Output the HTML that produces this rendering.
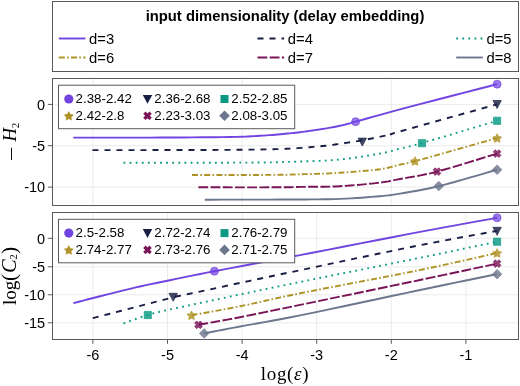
<!DOCTYPE html><html><head><meta charset="utf-8"><style>html,body{margin:0;padding:0;background:#fff;}svg{display:block;}</style></head><body>
<svg width="520" height="386" viewBox="0 0 520 386">
<rect width="520" height="386" fill="#fff"/>
<rect x="52.5" y="1.5" width="466" height="70" fill="#fff" stroke="#5a5a5a" stroke-width="1"/>
<text x="285" y="20.9" text-anchor="middle" font-family='"Liberation Sans", Arial, Helvetica, sans-serif' font-weight="bold" font-size="14.8" fill="#000">input dimensionality (delay embedding)</text>
<path d="M58.80,38.50 L85.40,38.50" fill="none" stroke="#7143E0" stroke-width="1.9" stroke-linejoin="round"/>
<text x="89.1" y="43.6" font-family='"Liberation Sans", Arial, Helvetica, sans-serif' font-size="14.8" fill="#000">d=3</text>
<path d="M257.50,38.50 L284.10,38.50" fill="none" stroke="#191E44" stroke-width="1.9" stroke-dasharray="6 6" stroke-linejoin="round"/>
<text x="287.8" y="43.6" font-family='"Liberation Sans", Arial, Helvetica, sans-serif' font-size="14.8" fill="#000">d=4</text>
<path d="M456.20,38.50 L482.80,38.50" fill="none" stroke="#0A9A84" stroke-width="1.9" stroke-dasharray="1.8 4.3" stroke-linejoin="round"/>
<text x="486.5" y="43.6" font-family='"Liberation Sans", Arial, Helvetica, sans-serif' font-size="14.8" fill="#000">d=5</text>
<path d="M58.80,57.50 L85.40,57.50" fill="none" stroke="#AF9327" stroke-width="1.9" stroke-dasharray="6 2.3 1.6 2.3" stroke-linejoin="round"/>
<text x="89.1" y="62.6" font-family='"Liberation Sans", Arial, Helvetica, sans-serif' font-size="14.8" fill="#000">d=6</text>
<path d="M257.50,57.50 L284.10,57.50" fill="none" stroke="#791457" stroke-width="1.9" stroke-dasharray="9.8 2.4" stroke-linejoin="round"/>
<text x="287.8" y="62.6" font-family='"Liberation Sans", Arial, Helvetica, sans-serif' font-size="14.8" fill="#000">d=7</text>
<path d="M456.20,57.50 L482.80,57.50" fill="none" stroke="#6C768C" stroke-width="1.9" stroke-linejoin="round"/>
<text x="486.5" y="62.6" font-family='"Liberation Sans", Arial, Helvetica, sans-serif' font-size="14.8" fill="#000">d=8</text>
<line x1="92.9" y1="78.5" x2="92.9" y2="205.5" stroke="#ebebeb" stroke-width="1"/>
<line x1="242.1" y1="78.5" x2="242.1" y2="205.5" stroke="#ebebeb" stroke-width="1"/>
<line x1="391.3" y1="78.5" x2="391.3" y2="205.5" stroke="#ebebeb" stroke-width="1"/>
<line x1="52.5" y1="104.4" x2="518.5" y2="104.4" stroke="#ebebeb" stroke-width="1"/>
<line x1="52.5" y1="145.7" x2="518.5" y2="145.7" stroke="#ebebeb" stroke-width="1"/>
<line x1="52.5" y1="187.1" x2="518.5" y2="187.1" stroke="#ebebeb" stroke-width="1"/>
<path d="M73.30,137.60 L79.19,137.60 L87.00,137.61 L96.30,137.63 L106.65,137.64 L117.63,137.64 L128.80,137.64 L139.73,137.63 L150.00,137.60 L160.18,137.56 L170.94,137.51 L181.96,137.45 L192.92,137.38 L203.52,137.30 L213.44,137.21 L222.37,137.11 L230.00,137.00 L236.19,136.88 L241.18,136.76 L245.22,136.62 L248.56,136.48 L251.46,136.32 L254.16,136.16 L256.93,135.98 L260.00,135.80 L263.25,135.60 L266.38,135.39 L269.40,135.17 L272.31,134.94 L275.12,134.70 L277.84,134.46 L280.46,134.23 L283.00,134.00 L285.39,133.78 L287.60,133.57 L289.68,133.37 L291.69,133.16 L293.67,132.95 L295.68,132.72 L297.77,132.47 L300.00,132.20 L302.36,131.90 L304.79,131.59 L307.28,131.26 L309.81,130.91 L312.37,130.55 L314.93,130.18 L317.48,129.80 L320.00,129.40 L322.53,128.99 L325.10,128.57 L327.69,128.13 L330.28,127.68 L332.82,127.22 L335.31,126.75 L337.71,126.28 L340.00,125.80 L341.96,125.37 L343.53,125.00 L344.91,124.66 L346.27,124.29 L347.83,123.86 L349.78,123.31 L352.30,122.61 L355.60,121.70 L359.41,120.64 L363.44,119.50 L367.83,118.25 L372.71,116.87 L378.23,115.32 L384.53,113.57 L391.74,111.61 L400.00,109.40 L410.27,106.70 L422.83,103.42 L436.79,99.79 L451.27,96.03 L465.42,92.37 L478.34,89.03 L489.16,86.23 L497.00,84.20" fill="none" stroke="#7143E0" stroke-width="1.9" stroke-linejoin="round"/>
<path d="M92.50,150.10 L101.12,150.10 L112.93,150.09 L127.03,150.09 L142.50,150.08 L158.44,150.07 L173.95,150.06 L188.10,150.03 L200.00,150.00 L209.98,149.96 L219.04,149.91 L227.30,149.86 L234.84,149.80 L241.78,149.73 L248.22,149.66 L254.26,149.58 L260.00,149.50 L265.19,149.42 L269.61,149.34 L273.45,149.25 L276.88,149.16 L280.07,149.06 L283.20,148.93 L286.46,148.78 L290.00,148.60 L293.82,148.38 L297.73,148.13 L301.69,147.85 L305.62,147.55 L309.48,147.24 L313.20,146.92 L316.73,146.61 L320.00,146.30 L322.96,146.00 L325.66,145.71 L328.14,145.42 L330.50,145.12 L332.79,144.82 L335.09,144.50 L337.47,144.16 L340.00,143.80 L342.61,143.43 L345.22,143.05 L347.84,142.66 L350.50,142.25 L353.22,141.82 L356.03,141.35 L358.95,140.85 L362.00,140.30 L365.34,139.68 L369.00,138.97 L372.85,138.21 L376.75,137.43 L380.55,136.65 L384.12,135.90 L387.32,135.21 L390.00,134.60 L391.52,134.24 L391.73,134.18 L391.25,134.27 L390.69,134.34 L390.67,134.24 L391.80,133.82 L394.71,132.93 L400.00,131.40 L408.62,128.97 L420.41,125.67 L434.27,121.80 L449.12,117.65 L463.91,113.53 L477.53,109.73 L488.92,106.55 L497.00,104.30" fill="none" stroke="#191E44" stroke-width="1.9" stroke-dasharray="6 6" stroke-linejoin="round"/>
<path d="M123.50,162.70 L133.78,162.70 L148.02,162.71 L165.03,162.71 L183.62,162.72 L202.61,162.72 L220.79,162.70 L236.98,162.66 L250.00,162.60 L259.98,162.52 L268.11,162.42 L274.79,162.30 L280.41,162.17 L285.34,162.02 L290.00,161.86 L294.75,161.69 L300.00,161.50 L305.48,161.32 L310.70,161.15 L315.73,160.99 L320.62,160.80 L325.44,160.58 L330.23,160.30 L335.07,159.94 L340.00,159.50 L345.14,158.94 L350.47,158.28 L355.88,157.53 L361.25,156.74 L366.46,155.92 L371.41,155.10 L375.96,154.32 L380.00,153.60 L383.44,152.94 L386.36,152.30 L388.88,151.69 L391.12,151.08 L393.23,150.48 L395.33,149.87 L397.54,149.25 L400.00,148.60 L402.29,148.04 L404.12,147.63 L405.77,147.27 L407.56,146.88 L409.78,146.34 L412.73,145.58 L416.70,144.50 L422.00,143.00 L429.35,140.87 L438.78,138.10 L449.54,134.92 L460.88,131.55 L472.04,128.23 L482.28,125.18 L490.85,122.63 L497.00,120.80" fill="none" stroke="#0A9A84" stroke-width="1.9" stroke-dasharray="1.8 4.3" stroke-linejoin="round"/>
<path d="M192.00,175.00 L198.35,175.00 L207.14,174.99 L217.65,174.99 L229.12,174.99 L240.84,174.98 L252.05,174.96 L262.01,174.94 L270.00,174.90 L275.98,174.86 L280.64,174.81 L284.33,174.75 L287.38,174.69 L290.13,174.61 L292.92,174.53 L296.10,174.42 L300.00,174.30 L304.52,174.17 L309.30,174.04 L314.27,173.90 L319.38,173.74 L324.56,173.56 L329.77,173.34 L334.93,173.09 L340.00,172.80 L345.14,172.46 L350.47,172.07 L355.88,171.65 L361.25,171.19 L366.46,170.72 L371.41,170.22 L375.96,169.71 L380.00,169.20 L383.49,168.66 L386.52,168.09 L389.18,167.50 L391.56,166.89 L393.75,166.28 L395.82,165.69 L397.88,165.12 L400.00,164.60 L401.66,164.25 L402.53,164.13 L403.05,164.10 L403.62,164.06 L404.69,163.87 L406.66,163.41 L409.95,162.56 L415.00,161.20 L422.60,159.10 L432.71,156.27 L444.45,152.97 L456.94,149.44 L469.31,145.94 L480.70,142.71 L490.22,140.02 L497.00,138.10" fill="none" stroke="#AF9327" stroke-width="1.9" stroke-dasharray="6 2.3 1.6 2.3" stroke-linejoin="round"/>
<path d="M198.40,187.30 L205.12,187.30 L214.51,187.31 L225.73,187.32 L237.95,187.33 L250.33,187.33 L262.02,187.33 L272.19,187.32 L280.00,187.30 L285.31,187.27 L288.86,187.24 L291.13,187.19 L292.60,187.14 L293.74,187.09 L295.04,187.03 L296.96,186.97 L300.00,186.90 L304.04,186.85 L308.59,186.81 L313.54,186.79 L318.75,186.75 L324.12,186.69 L329.53,186.59 L334.86,186.43 L340.00,186.20 L345.14,185.89 L350.47,185.50 L355.88,185.06 L361.25,184.58 L366.46,184.08 L371.41,183.57 L375.96,183.07 L380.00,182.60 L383.34,182.18 L386.01,181.79 L388.22,181.42 L390.19,181.04 L392.13,180.63 L394.27,180.17 L396.82,179.63 L400.00,179.00 L403.65,178.33 L407.52,177.67 L411.62,176.97 L416.00,176.20 L420.69,175.32 L425.73,174.28 L431.16,173.06 L437.00,171.60 L443.81,169.73 L451.79,167.42 L460.45,164.84 L469.31,162.14 L477.88,159.50 L485.68,157.08 L492.21,155.06 L497.00,153.60" fill="none" stroke="#791457" stroke-width="1.9" stroke-dasharray="9.8 2.4" stroke-linejoin="round"/>
<path d="M204.80,199.70 L211.61,199.69 L220.93,199.67 L232.06,199.66 L244.28,199.64 L256.88,199.61 L269.18,199.58 L280.45,199.55 L290.00,199.50 L298.00,199.46 L305.21,199.43 L311.77,199.40 L317.82,199.36 L323.53,199.30 L329.03,199.21 L334.47,199.08 L340.00,198.90 L345.62,198.66 L351.17,198.37 L356.61,198.04 L361.88,197.68 L366.90,197.30 L371.64,196.92 L376.03,196.55 L380.00,196.20 L383.33,195.90 L385.96,195.66 L388.13,195.43 L390.06,195.20 L391.99,194.93 L394.13,194.59 L396.73,194.16 L400.00,193.60 L403.84,192.96 L407.97,192.28 L412.40,191.54 L417.12,190.71 L422.15,189.78 L427.47,188.72 L433.09,187.50 L439.00,186.10 L445.74,184.36 L453.52,182.24 L461.91,179.88 L470.44,177.43 L478.66,175.04 L486.13,172.86 L492.40,171.03 L497.00,169.70" fill="none" stroke="#6C768C" stroke-width="1.9" stroke-linejoin="round"/>
<circle cx="355.6" cy="121.7" r="4.0" fill="#7143E0" fill-opacity="0.72" stroke="#7143E0" stroke-opacity="0.72" stroke-width="0.9"/>
<circle cx="497.1" cy="84.2" r="4.0" fill="#7143E0" fill-opacity="0.72" stroke="#7143E0" stroke-opacity="0.72" stroke-width="0.9"/>
<path d="M358.07,138.11 L366.53,138.11 L362.30,146.12 Z" fill="#191E44" fill-opacity="0.82" stroke="#191E44" stroke-opacity="0.82" stroke-width="0.8" stroke-linejoin="round"/>
<path d="M492.87,100.51 L501.33,100.51 L497.10,108.52 Z" fill="#191E44" fill-opacity="0.82" stroke="#191E44" stroke-opacity="0.82" stroke-width="0.8" stroke-linejoin="round"/>
<rect x="418.40" y="139.60" width="7.20" height="7.20" fill="#0A9A84" fill-opacity="0.82" stroke="#0A9A84" stroke-opacity="0.82" stroke-width="0.8" stroke-linejoin="round"/>
<rect x="493.50" y="117.20" width="7.20" height="7.20" fill="#0A9A84" fill-opacity="0.82" stroke="#0A9A84" stroke-opacity="0.82" stroke-width="0.8" stroke-linejoin="round"/>
<polygon points="415.00,156.73 416.45,159.50 419.54,160.03 417.35,162.26 417.80,165.36 415.00,163.97 412.20,165.36 412.65,162.26 410.46,160.03 413.55,159.50" fill="#AF9327" fill-opacity="0.82" stroke="#AF9327" stroke-opacity="0.82" stroke-width="0.8" stroke-linejoin="round"/>
<polygon points="497.10,133.73 498.55,136.50 501.64,137.03 499.45,139.26 499.90,142.36 497.10,140.97 494.30,142.36 494.75,139.26 492.56,137.03 495.65,136.50" fill="#AF9327" fill-opacity="0.82" stroke="#AF9327" stroke-opacity="0.82" stroke-width="0.8" stroke-linejoin="round"/>
<polygon points="438.75,167.75 440.85,169.85 439.10,171.60 440.85,173.35 438.75,175.45 437.00,173.70 435.25,175.45 433.15,173.35 434.90,171.60 433.15,169.85 435.25,167.75 437.00,169.50" fill="#791457" fill-opacity="0.82" stroke="#791457" stroke-opacity="0.82" stroke-width="0.8" stroke-linejoin="round"/>
<polygon points="498.85,149.75 500.95,151.85 499.20,153.60 500.95,155.35 498.85,157.45 497.10,155.70 495.35,157.45 493.25,155.35 495.00,153.60 493.25,151.85 495.35,149.75 497.10,151.50" fill="#791457" fill-opacity="0.82" stroke="#791457" stroke-opacity="0.82" stroke-width="0.8" stroke-linejoin="round"/>
<path d="M438.80,181.33 L443.57,186.10 L438.80,190.87 L434.03,186.10 Z" fill="#6C768C" fill-opacity="0.82" stroke="#6C768C" stroke-opacity="0.82" stroke-width="0.8" stroke-linejoin="round"/>
<path d="M497.10,164.93 L501.87,169.70 L497.10,174.47 L492.33,169.70 Z" fill="#6C768C" fill-opacity="0.82" stroke="#6C768C" stroke-opacity="0.82" stroke-width="0.8" stroke-linejoin="round"/>
<rect x="58.5" y="85.2" width="236.2" height="43.499999999999986" fill="#fff" stroke="#5a5a5a" stroke-width="1"/>
<circle cx="68.8" cy="99.0" r="4.6" fill="#7143E0"/>
<text x="75.6" y="103.3" font-family='"Liberation Sans", Arial, Helvetica, sans-serif' font-size="13.3" fill="#000">2.38-2.42</text>
<path d="M142.80,94.90 L152.20,94.90 L147.50,103.80 Z" fill="#191E44"/>
<text x="154.3" y="103.3" font-family='"Liberation Sans", Arial, Helvetica, sans-serif' font-size="13.3" fill="#000">2.36-2.68</text>
<rect x="220.50" y="95.00" width="8.00" height="8.00" fill="#0A9A84"/>
<text x="231.3" y="103.3" font-family='"Liberation Sans", Arial, Helvetica, sans-serif' font-size="13.3" fill="#000">2.52-2.85</text>
<polygon points="68.80,111.00 70.42,114.08 73.84,114.66 71.42,117.15 71.92,120.59 68.80,119.05 65.68,120.59 66.18,117.15 63.76,114.66 67.18,114.08" fill="#AF9327"/>
<text x="75.6" y="120.10000000000001" font-family='"Liberation Sans", Arial, Helvetica, sans-serif' font-size="13.3" fill="#000">2.42-2.8</text>
<polygon points="149.44,111.52 151.78,113.86 149.83,115.80 151.78,117.74 149.44,120.08 147.50,118.13 145.56,120.08 143.22,117.74 145.17,115.80 143.22,113.86 145.56,111.52 147.50,113.47" fill="#791457"/>
<text x="154.3" y="120.10000000000001" font-family='"Liberation Sans", Arial, Helvetica, sans-serif' font-size="13.3" fill="#000">2.23-3.03</text>
<path d="M224.50,110.50 L229.80,115.80 L224.50,121.10 L219.20,115.80 Z" fill="#6C768C"/>
<text x="231.3" y="120.10000000000001" font-family='"Liberation Sans", Arial, Helvetica, sans-serif' font-size="13.3" fill="#000">2.08-3.05</text>
<rect x="52.5" y="78.5" width="466" height="127.0" fill="none" stroke="#5a5a5a" stroke-width="1"/>
<line x1="47.8" y1="104.4" x2="52.5" y2="104.4" stroke="#5a5a5a" stroke-width="1"/>
<text x="45.2" y="109.60000000000001" text-anchor="end" font-family='"Liberation Sans", Arial, Helvetica, sans-serif' font-size="14.5" fill="#000">0</text>
<line x1="47.8" y1="145.7" x2="52.5" y2="145.7" stroke="#5a5a5a" stroke-width="1"/>
<text x="45.2" y="150.89999999999998" text-anchor="end" font-family='"Liberation Sans", Arial, Helvetica, sans-serif' font-size="14.5" fill="#000">-5</text>
<line x1="47.8" y1="187.1" x2="52.5" y2="187.1" stroke="#5a5a5a" stroke-width="1"/>
<text x="45.2" y="192.29999999999998" text-anchor="end" font-family='"Liberation Sans", Arial, Helvetica, sans-serif' font-size="14.5" fill="#000">-10</text>
<line x1="92.9" y1="212.5" x2="92.9" y2="339.5" stroke="#ebebeb" stroke-width="1"/>
<line x1="167.5" y1="212.5" x2="167.5" y2="339.5" stroke="#ebebeb" stroke-width="1"/>
<line x1="242.1" y1="212.5" x2="242.1" y2="339.5" stroke="#ebebeb" stroke-width="1"/>
<line x1="316.7" y1="212.5" x2="316.7" y2="339.5" stroke="#ebebeb" stroke-width="1"/>
<line x1="391.3" y1="212.5" x2="391.3" y2="339.5" stroke="#ebebeb" stroke-width="1"/>
<line x1="465.9" y1="212.5" x2="465.9" y2="339.5" stroke="#ebebeb" stroke-width="1"/>
<line x1="52.5" y1="238.3" x2="518.5" y2="238.3" stroke="#ebebeb" stroke-width="1"/>
<line x1="52.5" y1="266.8" x2="518.5" y2="266.8" stroke="#ebebeb" stroke-width="1"/>
<line x1="52.5" y1="294.8" x2="518.5" y2="294.8" stroke="#ebebeb" stroke-width="1"/>
<line x1="52.5" y1="322.8" x2="518.5" y2="322.8" stroke="#ebebeb" stroke-width="1"/>
<path d="M73.40,303.10 L77.88,301.96 L83.96,300.40 L91.21,298.53 L99.20,296.49 L107.50,294.37 L115.69,292.31 L123.33,290.41 L130.00,288.80 L135.76,287.45 L141.06,286.26 L146.02,285.18 L150.76,284.17 L155.41,283.20 L160.08,282.24 L164.90,281.26 L170.00,280.20 L175.06,279.14 L179.83,278.14 L184.52,277.17 L189.35,276.17 L194.54,275.11 L200.30,273.96 L206.85,272.67 L214.40,271.20 L222.89,269.58 L232.10,267.84 L241.97,265.99 L252.48,264.04 L263.57,261.97 L275.22,259.79 L287.37,257.50 L300.00,255.10 L313.65,252.48 L328.59,249.59 L344.37,246.52 L360.54,243.38 L376.64,240.25 L392.22,237.23 L406.82,234.41 L420.00,231.90 L432.21,229.61 L444.08,227.40 L455.41,225.33 L466.00,223.40 L475.65,221.65 L484.17,220.12 L491.35,218.83 L497.00,217.80" fill="none" stroke="#7143E0" stroke-width="1.9" stroke-linejoin="round"/>
<path d="M92.80,318.20 L99.51,316.45 L108.97,313.99 L120.30,311.04 L132.57,307.84 L144.91,304.64 L156.39,301.65 L166.12,299.13 L173.20,297.30 L176.80,296.35 L177.42,296.13 L176.17,296.38 L174.12,296.84 L172.39,297.28 L172.07,297.41 L174.24,297.01 L180.00,295.80 L189.58,293.75 L202.04,291.08 L216.71,287.94 L232.93,284.47 L250.03,280.82 L267.35,277.12 L284.23,273.54 L300.00,270.20 L315.29,266.97 L331.01,263.66 L346.89,260.31 L362.69,256.99 L378.15,253.76 L393.02,250.68 L407.06,247.81 L420.00,245.20 L432.21,242.80 L444.08,240.54 L455.41,238.43 L466.00,236.49 L475.65,234.74 L484.17,233.22 L491.35,231.93 L497.00,230.90" fill="none" stroke="#191E44" stroke-width="1.9" stroke-dasharray="6 6" stroke-linejoin="round"/>
<path d="M123.50,323.50 L125.32,322.84 L127.68,321.95 L130.49,320.90 L133.64,319.73 L137.04,318.50 L140.60,317.27 L144.22,316.08 L147.80,315.00 L150.85,314.12 L153.24,313.43 L155.44,312.83 L157.92,312.20 L161.15,311.44 L165.59,310.44 L171.72,309.10 L180.00,307.30 L190.80,304.97 L203.83,302.19 L218.57,299.05 L234.51,295.68 L251.14,292.18 L267.94,288.66 L284.40,285.23 L300.00,282.00 L315.29,278.87 L331.01,275.68 L346.89,272.49 L362.69,269.32 L378.15,266.23 L393.02,263.25 L407.06,260.43 L420.00,257.80 L432.21,255.29 L444.08,252.83 L455.41,250.46 L466.00,248.24 L475.65,246.20 L484.17,244.40 L491.35,242.89 L497.00,241.70" fill="none" stroke="#0A9A84" stroke-width="1.9" stroke-dasharray="1.8 4.3" stroke-linejoin="round"/>
<path d="M191.50,315.20 L195.16,314.54 L199.95,313.70 L205.63,312.69 L212.00,311.56 L218.84,310.33 L225.93,309.02 L233.06,307.67 L240.00,306.30 L246.54,304.94 L252.79,303.58 L259.02,302.18 L265.53,300.70 L272.60,299.11 L280.51,297.37 L289.55,295.45 L300.00,293.30 L312.42,290.84 L326.79,288.05 L342.50,285.04 L358.94,281.90 L375.51,278.73 L391.62,275.62 L406.65,272.68 L420.00,270.00 L432.21,267.46 L444.08,264.91 L455.41,262.42 L466.00,260.04 L475.65,257.85 L484.17,255.91 L491.35,254.27 L497.00,253.00" fill="none" stroke="#AF9327" stroke-width="1.9" stroke-dasharray="6 2.3 1.6 2.3" stroke-linejoin="round"/>
<path d="M198.50,324.80 L201.58,324.25 L205.52,323.54 L210.21,322.71 L215.50,321.77 L221.26,320.73 L227.35,319.61 L233.64,318.43 L240.00,317.20 L246.20,315.97 L252.29,314.75 L258.51,313.49 L265.09,312.13 L272.29,310.64 L280.35,308.97 L289.50,307.07 L300.00,304.90 L312.42,302.33 L326.79,299.36 L342.50,296.11 L358.94,292.71 L375.51,289.27 L391.62,285.92 L406.65,282.79 L420.00,280.00 L432.21,277.43 L444.08,274.92 L455.41,272.51 L466.00,270.24 L475.65,268.18 L484.17,266.35 L491.35,264.81 L497.00,263.60" fill="none" stroke="#791457" stroke-width="1.9" stroke-dasharray="9.8 2.4" stroke-linejoin="round"/>
<path d="M204.20,333.40 L206.80,332.90 L210.07,332.26 L213.94,331.50 L218.35,330.64 L223.23,329.70 L228.51,328.68 L234.12,327.61 L240.00,326.50 L245.93,325.41 L251.89,324.36 L258.09,323.27 L264.74,322.11 L272.04,320.79 L280.21,319.28 L289.46,317.50 L300.00,315.40 L312.42,312.84 L326.79,309.83 L342.50,306.50 L358.94,303.00 L375.51,299.46 L391.62,296.02 L406.65,292.82 L420.00,290.00 L432.21,287.45 L444.08,284.98 L455.41,282.64 L466.00,280.46 L475.65,278.48 L484.17,276.73 L491.35,275.26 L497.00,274.10" fill="none" stroke="#6C768C" stroke-width="1.9" stroke-linejoin="round"/>
<circle cx="214.4" cy="271.2" r="4.0" fill="#7143E0" fill-opacity="0.72" stroke="#7143E0" stroke-opacity="0.72" stroke-width="0.9"/>
<circle cx="497.1" cy="217.8" r="4.0" fill="#7143E0" fill-opacity="0.72" stroke="#7143E0" stroke-opacity="0.72" stroke-width="0.9"/>
<path d="M168.97,293.31 L177.43,293.31 L173.20,301.32 Z" fill="#191E44" fill-opacity="0.82" stroke="#191E44" stroke-opacity="0.82" stroke-width="0.8" stroke-linejoin="round"/>
<path d="M492.87,227.31 L501.33,227.31 L497.10,235.32 Z" fill="#191E44" fill-opacity="0.82" stroke="#191E44" stroke-opacity="0.82" stroke-width="0.8" stroke-linejoin="round"/>
<rect x="144.20" y="311.40" width="7.20" height="7.20" fill="#0A9A84" fill-opacity="0.82" stroke="#0A9A84" stroke-opacity="0.82" stroke-width="0.8" stroke-linejoin="round"/>
<rect x="493.50" y="238.10" width="7.20" height="7.20" fill="#0A9A84" fill-opacity="0.82" stroke="#0A9A84" stroke-opacity="0.82" stroke-width="0.8" stroke-linejoin="round"/>
<polygon points="191.50,310.93 192.95,313.70 196.04,314.23 193.85,316.46 194.30,319.56 191.50,318.18 188.70,319.56 189.15,316.46 186.96,314.23 190.05,313.70" fill="#AF9327" fill-opacity="0.82" stroke="#AF9327" stroke-opacity="0.82" stroke-width="0.8" stroke-linejoin="round"/>
<polygon points="497.10,248.63 498.55,251.40 501.64,251.93 499.45,254.16 499.90,257.26 497.10,255.88 494.30,257.26 494.75,254.16 492.56,251.93 495.65,251.40" fill="#AF9327" fill-opacity="0.82" stroke="#AF9327" stroke-opacity="0.82" stroke-width="0.8" stroke-linejoin="round"/>
<polygon points="200.25,320.95 202.35,323.05 200.60,324.80 202.35,326.55 200.25,328.65 198.50,326.90 196.75,328.65 194.65,326.55 196.40,324.80 194.65,323.05 196.75,320.95 198.50,322.70" fill="#791457" fill-opacity="0.82" stroke="#791457" stroke-opacity="0.82" stroke-width="0.8" stroke-linejoin="round"/>
<polygon points="498.85,259.75 500.95,261.85 499.20,263.60 500.95,265.35 498.85,267.45 497.10,265.70 495.35,267.45 493.25,265.35 495.00,263.60 493.25,261.85 495.35,259.75 497.10,261.50" fill="#791457" fill-opacity="0.82" stroke="#791457" stroke-opacity="0.82" stroke-width="0.8" stroke-linejoin="round"/>
<path d="M204.20,328.63 L208.97,333.40 L204.20,338.17 L199.43,333.40 Z" fill="#6C768C" fill-opacity="0.82" stroke="#6C768C" stroke-opacity="0.82" stroke-width="0.8" stroke-linejoin="round"/>
<path d="M497.10,269.43 L501.87,274.20 L497.10,278.97 L492.33,274.20 Z" fill="#6C768C" fill-opacity="0.82" stroke="#6C768C" stroke-opacity="0.82" stroke-width="0.8" stroke-linejoin="round"/>
<rect x="58.5" y="219.3" width="236.2" height="43.5" fill="#fff" stroke="#5a5a5a" stroke-width="1"/>
<circle cx="68.8" cy="233.10000000000002" r="4.6" fill="#7143E0"/>
<text x="75.6" y="237.40000000000003" font-family='"Liberation Sans", Arial, Helvetica, sans-serif' font-size="13.3" fill="#000">2.5-2.58</text>
<path d="M142.80,229.00 L152.20,229.00 L147.50,237.90 Z" fill="#191E44"/>
<text x="154.3" y="237.40000000000003" font-family='"Liberation Sans", Arial, Helvetica, sans-serif' font-size="13.3" fill="#000">2.72-2.74</text>
<rect x="220.50" y="229.10" width="8.00" height="8.00" fill="#0A9A84"/>
<text x="231.3" y="237.40000000000003" font-family='"Liberation Sans", Arial, Helvetica, sans-serif' font-size="13.3" fill="#000">2.76-2.79</text>
<polygon points="68.80,245.10 70.42,248.18 73.84,248.76 71.42,251.25 71.92,254.69 68.80,253.15 65.68,254.69 66.18,251.25 63.76,248.76 67.18,248.18" fill="#AF9327"/>
<text x="75.6" y="254.20000000000002" font-family='"Liberation Sans", Arial, Helvetica, sans-serif' font-size="13.3" fill="#000">2.74-2.77</text>
<polygon points="149.44,245.62 151.78,247.96 149.83,249.90 151.78,251.84 149.44,254.18 147.50,252.23 145.56,254.18 143.22,251.84 145.17,249.90 143.22,247.96 145.56,245.62 147.50,247.57" fill="#791457"/>
<text x="154.3" y="254.20000000000002" font-family='"Liberation Sans", Arial, Helvetica, sans-serif' font-size="13.3" fill="#000">2.73-2.76</text>
<path d="M224.50,244.60 L229.80,249.90 L224.50,255.20 L219.20,249.90 Z" fill="#6C768C"/>
<text x="231.3" y="254.20000000000002" font-family='"Liberation Sans", Arial, Helvetica, sans-serif' font-size="13.3" fill="#000">2.71-2.75</text>
<rect x="52.5" y="212.5" width="466" height="127.0" fill="none" stroke="#5a5a5a" stroke-width="1"/>
<line x1="47.8" y1="238.3" x2="52.5" y2="238.3" stroke="#5a5a5a" stroke-width="1"/>
<text x="45.2" y="243.5" text-anchor="end" font-family='"Liberation Sans", Arial, Helvetica, sans-serif' font-size="14.5" fill="#000">0</text>
<line x1="47.8" y1="266.8" x2="52.5" y2="266.8" stroke="#5a5a5a" stroke-width="1"/>
<text x="45.2" y="272.0" text-anchor="end" font-family='"Liberation Sans", Arial, Helvetica, sans-serif' font-size="14.5" fill="#000">-5</text>
<line x1="47.8" y1="294.8" x2="52.5" y2="294.8" stroke="#5a5a5a" stroke-width="1"/>
<text x="45.2" y="300.0" text-anchor="end" font-family='"Liberation Sans", Arial, Helvetica, sans-serif' font-size="14.5" fill="#000">-10</text>
<line x1="47.8" y1="322.8" x2="52.5" y2="322.8" stroke="#5a5a5a" stroke-width="1"/>
<text x="45.2" y="328.0" text-anchor="end" font-family='"Liberation Sans", Arial, Helvetica, sans-serif' font-size="14.5" fill="#000">-15</text>
<line x1="92.9" y1="339.5" x2="92.9" y2="343.8" stroke="#5a5a5a" stroke-width="1"/>
<text x="92.9" y="359.7" text-anchor="middle" font-family='"Liberation Sans", Arial, Helvetica, sans-serif' font-size="14.5" fill="#000">-6</text>
<line x1="167.5" y1="339.5" x2="167.5" y2="343.8" stroke="#5a5a5a" stroke-width="1"/>
<text x="167.5" y="359.7" text-anchor="middle" font-family='"Liberation Sans", Arial, Helvetica, sans-serif' font-size="14.5" fill="#000">-5</text>
<line x1="242.1" y1="339.5" x2="242.1" y2="343.8" stroke="#5a5a5a" stroke-width="1"/>
<text x="242.1" y="359.7" text-anchor="middle" font-family='"Liberation Sans", Arial, Helvetica, sans-serif' font-size="14.5" fill="#000">-4</text>
<line x1="316.7" y1="339.5" x2="316.7" y2="343.8" stroke="#5a5a5a" stroke-width="1"/>
<text x="316.7" y="359.7" text-anchor="middle" font-family='"Liberation Sans", Arial, Helvetica, sans-serif' font-size="14.5" fill="#000">-3</text>
<line x1="391.3" y1="339.5" x2="391.3" y2="343.8" stroke="#5a5a5a" stroke-width="1"/>
<text x="391.3" y="359.7" text-anchor="middle" font-family='"Liberation Sans", Arial, Helvetica, sans-serif' font-size="14.5" fill="#000">-2</text>
<line x1="465.9" y1="339.5" x2="465.9" y2="343.8" stroke="#5a5a5a" stroke-width="1"/>
<text x="465.9" y="359.7" text-anchor="middle" font-family='"Liberation Sans", Arial, Helvetica, sans-serif' font-size="14.5" fill="#000">-1</text>
<text x="285" y="379.8" text-anchor="middle" font-family='"Liberation Serif", "Times New Roman", serif' font-size="19" letter-spacing="0.65" fill="#000">log(<tspan font-style="italic">ε</tspan>)</text>
<g transform="translate(16.2,160) rotate(-90)" font-family='"Liberation Serif", "Times New Roman", serif' fill="#000"><text x="-0.9" y="1.4" font-size="19" transform="scale(1.38,1)">−</text><text x="18.4" y="0" font-size="18.7" font-style="italic">H</text><text x="31.7" y="2.5" font-size="11">2</text></g>
<g transform="translate(16.2,305) rotate(-90)" font-family='"Liberation Serif", "Times New Roman", serif' fill="#000"><text x="0" y="0" font-size="19">log</text><text x="23.9" y="0" font-size="21.5">(</text><text x="32" y="0" font-size="20.5" font-style="italic">C</text><text x="45.6" y="0.9" font-size="10.5">2</text><text x="50.9" y="0" font-size="21.5">)</text></g>
</svg></body></html>
